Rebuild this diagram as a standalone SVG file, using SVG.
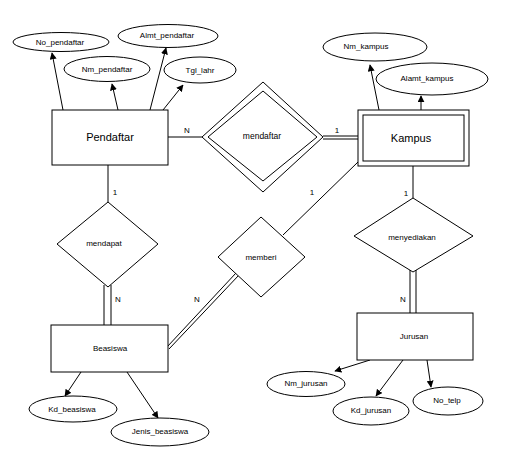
<svg xmlns="http://www.w3.org/2000/svg" width="508" height="473" viewBox="0 0 508 473">
<defs>
<marker id="ah" viewBox="0 0 10 10" refX="9" refY="5" markerWidth="7" markerHeight="7" markerUnits="userSpaceOnUse" orient="auto">
<path d="M0,0 L10,5 L0,10 z" fill="#000"/>
</marker>
<style>
.s{fill:#fff;stroke:#000;stroke-width:1}
.l{stroke:#000;stroke-width:1;fill:none}
.a{stroke:#000;stroke-width:1;fill:none;marker-end:url(#ah)}
text{font-family:"Liberation Sans",Arial,sans-serif;fill:#000;text-anchor:middle;dominant-baseline:central}
.t8{font-size:8px}
.t9{font-size:8.5px}
.t11{font-size:11px}
</style>
</defs>
<rect width="508" height="473" fill="#fff"/>
<g id="connectors">
<line class="l" x1="168" y1="137" x2="202" y2="137"/>
<line class="l" x1="323" y1="136" x2="358" y2="136"/>
<line class="l" x1="323" y1="139" x2="358" y2="139"/>
<line class="l" x1="108" y1="165" x2="108" y2="202"/>
<line class="l" x1="104" y1="285" x2="104" y2="325"/>
<line class="l" x1="111" y1="285" x2="111" y2="325"/>
<line class="l" x1="283" y1="235" x2="358" y2="162"/>
<line class="l" x1="167" y1="347" x2="236" y2="273"/>
<line class="l" x1="169" y1="349" x2="239" y2="275"/>
<line class="l" x1="413" y1="166" x2="413" y2="198"/>
<line class="l" x1="410" y1="270" x2="410" y2="313"/>
<line class="l" x1="416" y1="270" x2="416" y2="313"/>
<line class="a" x1="63" y1="110" x2="52" y2="53"/>
<line class="a" x1="118" y1="110" x2="112" y2="84"/>
<line class="a" x1="150" y1="110" x2="166" y2="48"/>
<line class="a" x1="163" y1="110" x2="183" y2="85"/>
<line class="a" x1="379" y1="110" x2="370" y2="65"/>
<line class="a" x1="421" y1="110" x2="421" y2="96"/>
<line class="a" x1="81" y1="372" x2="65" y2="396"/>
<line class="a" x1="127" y1="372" x2="158" y2="418"/>
<line class="a" x1="370" y1="360" x2="335" y2="371"/>
<line class="a" x1="403" y1="360" x2="376" y2="396"/>
<line class="a" x1="427" y1="360" x2="431" y2="387"/>
<text class="t8" x="187" y="130">N</text>
<text class="t8" x="337" y="130">1</text>
<text class="t8" x="115" y="192">1</text>
<text class="t8" x="118" y="299">N</text>
<text class="t8" x="312" y="192">1</text>
<text class="t8" x="197" y="299">N</text>
<text class="t8" x="406" y="193">1</text>
<text class="t8" x="403" y="299">N</text>
</g>
<g id="Pendaftar"><rect class="s" x="52" y="110" width="116" height="55"/><text class="t11" x="110" y="137">Pendaftar</text></g>
<g id="Kampus"><rect class="s" x="358" y="110" width="111" height="56"/><rect class="s" x="363" y="115" width="101" height="46"/><text class="t11" x="411" y="138">Kampus</text></g>
<g id="Beasiswa"><rect class="s" x="51" y="325" width="117" height="47"/><text class="t8" x="110" y="348">Beasiswa</text></g>
<g id="Jurusan"><rect class="s" x="357" y="313" width="116" height="47"/><text class="t8" x="414" y="336">Jurusan</text></g>
<g id="mendaftar"><polygon class="s" points="202,137 263,82 323,137 263,192"/><polygon class="s" points="208,137 263,91 317,137 263,181"/><text class="t9" x="262" y="136">mendaftar</text></g>
<g id="mendapat"><polygon class="s" points="57,244 108,202 158,244 108,287"/><text class="t8" x="104" y="243">mendapat</text></g>
<g id="memberi"><polygon class="s" points="218,257 261,217 305,257 261,297"/><text class="t8" x="261" y="257">memberi</text></g>
<g id="menyediakan"><polygon class="s" points="354,236 413,198 473,236 413,272"/><text class="t8" x="412" y="237">menyediakan</text></g>
<g id="No_pendaftar"><ellipse class="s" cx="61" cy="42" rx="48" ry="9.5"/><text class="t8" x="60" y="42">No_pendaftar</text></g>
<g id="Almt_pendaftar"><ellipse class="s" cx="168" cy="36" rx="50" ry="11.5"/><text class="t8" x="167" y="35">Almt_pendaftar</text></g>
<g id="Nm_pendaftar"><ellipse class="s" cx="107" cy="69" rx="43" ry="12.5"/><text class="t8" x="107" y="69">Nm_pendaftar</text></g>
<g id="Tgl_lahr"><ellipse class="s" cx="200" cy="70" rx="36" ry="13"/><text class="t8" x="200" y="70">Tgl_lahr</text></g>
<g id="Nm_kampus"><ellipse class="s" cx="375" cy="47" rx="52" ry="14"/><text class="t8" x="366" y="46">Nm_kampus</text></g>
<g id="Alamt_kampus"><ellipse class="s" cx="432" cy="79" rx="56" ry="16"/><text class="t8" x="427" y="78">Alamt_kampus</text></g>
<g id="Kd_beasiswa"><ellipse class="s" cx="73" cy="409" rx="44" ry="13"/><text class="t8" x="72" y="409">Kd_beasiswa</text></g>
<g id="Jenis_beasiswa"><ellipse class="s" cx="160" cy="432" rx="49" ry="14"/><text class="t8" x="160" y="431">Jenis_beasiswa</text></g>
<g id="Nm_jurusan"><ellipse class="s" cx="306" cy="384" rx="39" ry="12.5"/><text class="t8" x="306" y="383">Nm_jurusan</text></g>
<g id="Kd_jurusan"><ellipse class="s" cx="371" cy="411" rx="38" ry="14"/><text class="t8" x="371" y="410">Kd_jurusan</text></g>
<g id="No_telp"><ellipse class="s" cx="448" cy="401" rx="35" ry="14"/><text class="t8" x="447" y="400">No_telp</text></g>
</svg>
